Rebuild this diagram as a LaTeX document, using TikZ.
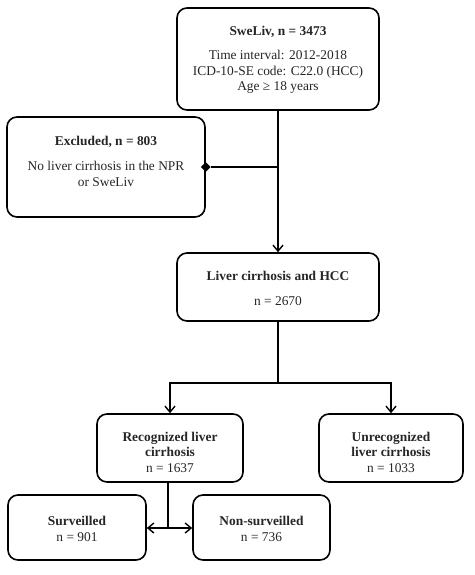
\documentclass[tikz,border=0pt]{standalone}
\usepackage{fontspec}
\setmainfont{Liberation Serif}
\usetikzlibrary{arrows.meta,shapes.geometric}
\begin{document}
\begin{tikzpicture}[x=1pt,y=-1pt,
  box/.style={draw=black,line width=1.6pt,rounded corners=10pt,inner sep=0pt},
  txt/.style={align=center,font=\fontsize{13.4}{15.5}\selectfont,inner sep=0pt,text=black!85},
  conn/.style={line width=1.4pt},
  arr/.style={conn,-{Straight Barb[length=6pt,width=10pt,line width=1.4pt]}}]
\useasboundingbox (0,0) rectangle (474,575);
% boxes
\node[box,minimum width=202pt,minimum height=102pt] (top) at (278,59) {};
\node[box,minimum width=198pt,minimum height=100pt] (excl) at (106,167) {};
\node[box,minimum width=202pt,minimum height=68pt] (liver) at (278,287) {};
\node[box,minimum width=146pt,minimum height=68pt] (rec) at (170,448) {};
\node[box,minimum width=144pt,minimum height=68pt] (unrec) at (391,448) {};
\node[box,minimum width=138pt,minimum height=65pt] (surv) at (77,527.5) {};
\node[box,minimum width=137pt,minimum height=65pt] (nons) at (261.5,527.5) {};
% texts
\node[txt] (ttop) at (278,60) {\textbf{SweLiv, n = 3473}\\[9pt]Time interval: 2012-2018\\ICD-10-SE code: C22.0 (HCC)\\Age ≥ 18 years};
\node[txt] (texcl) at (106,161) {\textbf{Excluded, n = 803}\\[10pt]No liver cirrhosis in the NPR\\or SweLiv};
\node[txt] (tliver) at (278,288.5) {\textbf{Liver cirrhosis and HCC}\\[9pt]n = 2670};
\node[txt] (trec) at (170,452) {\textbf{Recognized liver}\\\textbf{cirrhosis}\\n = 1637};
\node[txt] (tunrec) at (391,452) {\textbf{Unrecognized}\\\textbf{liver cirrhosis}\\n = 1033};
\node[txt] (tsurv) at (77,529) {\textbf{Surveilled}\\n = 901};
\node[txt] (tnons) at (261.5,529) {\textbf{Non-surveilled}\\n = 736};
% connectors
\draw[arr] (top) -- (liver);
\node[diamond,fill=black,inner sep=0pt,minimum width=10pt,minimum height=10pt] (dia) at (excl.east) {};
\coordinate (j1) at (top.south |- dia);
\draw[conn] (dia) -- (j1);
\coordinate (b1) at (278,383);
\draw[conn] (liver) -- (b1);
\draw[arr] (b1) -| (rec);
\draw[arr] (b1) -| (unrec);
\coordinate (b2) at (168,528);
\draw[conn] (rec.south -| b2) -- (b2);
\draw[arr] (b2) -- (surv.east |- b2);
\draw[arr] (b2) -- (nons.west |- b2);
\end{tikzpicture}
\end{document}
